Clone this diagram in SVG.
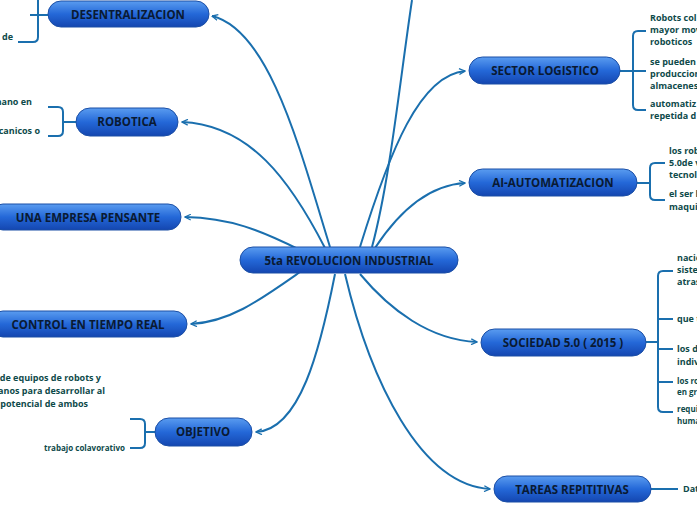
<svg xmlns="http://www.w3.org/2000/svg" width="697" height="520" viewBox="0 0 697 520">
<defs>
<linearGradient id="g" x1="0" y1="0" x2="0" y2="1"><stop offset="0" stop-color="#5a9cf0"/><stop offset="0.5" stop-color="#2468d8"/><stop offset="1" stop-color="#1446b0"/></linearGradient>
<marker id="a" viewBox="0 0 12 12" refX="11" refY="6" markerWidth="7" markerHeight="7" markerUnits="userSpaceOnUse" orient="auto"><path d="M1,1 L11,6 L1,11" fill="none" stroke="#1a6fae" stroke-width="2.2"/></marker>
</defs>
<style>
.n{fill:url(#g);stroke:#1b4fa6;stroke-width:1}
.t{font-family:"Open Sans","Noto Sans",sans-serif;font-weight:bold;font-size:11.5px;fill:#0a1a33;text-anchor:middle}
.s{font-family:"Open Sans","Noto Sans",sans-serif;font-weight:bold;font-size:9px;fill:#0e4a4a}
.e{text-anchor:end}
.c{fill:none;stroke:#1a6fae;stroke-width:2}
</style>
<rect width="697" height="520" fill="#fff"/>
<g id="connectors">
<path class="c" marker-end="url(#a)" d="M330,247 C300,150 270,30 212,16"/>
<path class="c" marker-end="url(#a)" d="M325,248 C290,180 250,125 182,122"/>
<path class="c" marker-end="url(#a)" d="M300,250 C260,230 230,218 185,217"/>
<path class="c" marker-end="url(#a)" d="M300,272 C260,300 230,322 191,324"/>
<path class="c" marker-end="url(#a)" d="M335,274 C320,350 300,430 256,432"/>
<path class="c" d="M372,247 C390,180 400,80 412,0"/>
<path class="c" marker-end="url(#a)" d="M360,247 C390,150 420,75 465,71"/>
<path class="c" marker-end="url(#a)" d="M375,248 C400,210 430,185 465,183"/>
<path class="c" marker-end="url(#a)" d="M360,274 C390,310 430,340 477,342"/>
<path class="c" marker-end="url(#a)" d="M345,274 C370,380 420,485 490,489"/>
<path class="c" d="M48,15 H38 M38,-5 V37 Q38,42 33,42 H18 M38,15 H30"/>
<path class="c" d="M76,122 H63 M63,112 Q63,107 58,107 H48 M63,112 V131 Q63,136 58,136 H48"/>
<path class="c" d="M155,432 H145 M145,424 Q145,419 140,419 H130 M145,424 V443 Q145,448 140,448 H130"/>
<path class="c" d="M620,71 H633 M633,36 Q633,31 638,31 H646 M633,36 V105 Q633,110 638,110 H646 M633,71 H646"/>
<path class="c" d="M637,183 H650 M650,168 Q650,163 655,163 H665 M650,168 V195 Q650,200 655,200 H665"/>
<path class="c" d="M646,342 H658 M658,276 Q658,271 663,271 H673 M658,276 V407 Q658,412 663,412 H673 M658,319 H673 M658,349 H673 M658,382 H673"/>
<path class="c" d="M651,489 H678"/>
</g>
<g id="center"><rect class="n" x="240" y="247" width="218" height="26" rx="13"/><text class="t" x="349" y="264.5">5ta REVOLUCION INDUSTRIAL</text></g>
<g id="desentralizacion"><rect class="n" x="48" y="1" width="161" height="26" rx="13"/><text class="t" x="128" y="18.5">DESENTRALIZACION</text><text class="s e" x="13" y="40">a de</text></g>
<g id="robotica"><rect class="n" x="76" y="108" width="102" height="28" rx="14"/><text class="t" x="127" y="126">ROBOTICA</text><text class="s e" x="32" y="105">mano en</text><text class="s e" x="40" y="134">ecanicos o</text></g>
<g id="empresa"><rect class="n" x="-10" y="204" width="191" height="26" rx="13"/><text class="t" x="88" y="221.5">UNA EMPRESA PENSANTE</text></g>
<g id="control"><rect class="n" x="-10" y="311" width="197" height="26" rx="13"/><text class="t" x="88" y="328.5">CONTROL EN TIEMPO REAL</text></g>
<g id="objetivo"><rect class="n" x="155" y="418" width="97" height="28" rx="14"/><text class="t" x="203" y="436">OBJETIVO</text>
<text class="s e" x="101" y="381">de equipos de robots y</text><text class="s e" x="105" y="394">anos para desarrollar al</text><text class="s e" x="88" y="407">potencial de ambos</text><text class="s e" x="125" y="451" style="font-size:8px">trabajo colavorativo</text></g>
<g id="logistico"><rect class="n" x="469" y="57" width="151" height="27" rx="13.5"/><text class="t" x="545" y="75">SECTOR LOGISTICO</text>
<text class="s" x="650" y="21">Robots col</text><text class="s" x="650" y="33">mayor mov</text><text class="s" x="650" y="45">roboticos</text>
<text class="s" x="650" y="65">se pueden</text><text class="s" x="650" y="77">produccion</text><text class="s" x="650" y="89">almacenes</text>
<text class="s" x="650" y="107">automatiz</text><text class="s" x="650" y="119">repetida d</text></g>
<g id="ai"><rect class="n" x="469" y="169" width="168" height="27" rx="13.5"/><text class="t" x="553" y="187">AI-AUTOMATIZACION</text>
<text class="s" x="669" y="154">los rob</text><text class="s" x="669" y="166">5.0de v</text><text class="s" x="669" y="178">tecnol</text>
<text class="s" x="669" y="197">el ser h</text><text class="s" x="669" y="210">maqui</text></g>
<g id="sociedad"><rect class="n" x="481" y="329" width="165" height="27" rx="13.5"/><text class="t" x="563" y="347">SOCIEDAD 5.0 ( 2015 )</text>
<text class="s" x="677" y="261">nacio</text><text class="s" x="677" y="273">siste</text><text class="s" x="677" y="285">atras</text>
<text class="s" x="677" y="322">que t</text><text class="s" x="677" y="352">los d</text><text class="s" x="677" y="365">indiv</text>
<text class="s" x="677" y="384" style="font-size:8px">los ro</text><text class="s" x="677" y="395" style="font-size:8px">en gr</text>
<text class="s" x="677" y="412" style="font-size:8px">requi</text><text class="s" x="677" y="424" style="font-size:8px">huma</text></g>
<g id="tareas"><rect class="n" x="494" y="476" width="157" height="26" rx="13"/><text class="t" x="572" y="493.5">TAREAS REPITITIVAS</text><text class="s" x="683" y="492">Dat</text></g>
</svg>
